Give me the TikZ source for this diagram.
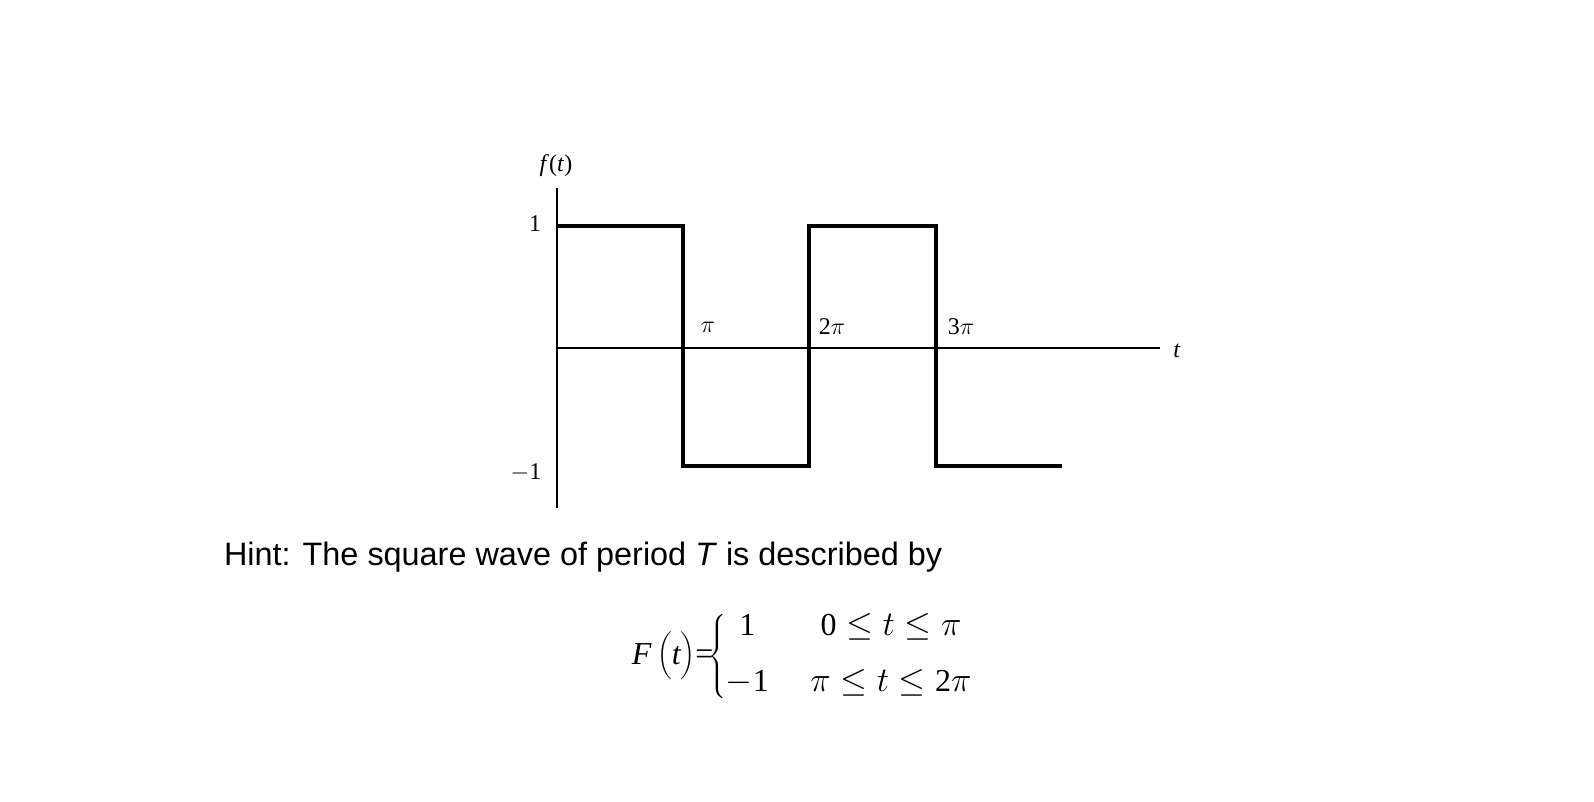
\documentclass[tikz,border=0pt]{standalone}
\usepackage{fontspec}
\setmainfont{Liberation Serif}
\newfontfamily\hintfont{Liberation Sans}
\begin{document}
\begin{tikzpicture}[x=0.5pt,y=-0.5pt,
  axis/.style={line width=0.6pt},
  wave/.style={line width=1.6pt},
  lbl/.style={font=\fontsize{12}{13}\selectfont},
  mathlbl/.style={font=\fontsize{16}{18}\selectfont}]
\coordinate (ytop) at (557,188);
\coordinate (ybot) at (557,508);
\coordinate (xl) at (557,348);
\coordinate (xr) at (1160,348);
\draw[axis] (ytop) -- (ybot);
\draw[axis] (xl) -- (xr);
\draw[wave] (557,226) -- (683,226) -- (683,466) -- (809,466) -- (809,226) -- (936,226) -- (936,466) -- (1062,466);
\node[lbl] (ft) at (556,166) {\textit{f}(\textit{t})};
\node[lbl] (t) at (1177,351) {\textit{t}};
\node[lbl] (one) at (535,224) {1};
\node[lbl] (mone) at (526,473) {$-$1};
\node[lbl] (pi) at (708,327) {$\pi$};
\node[lbl] (tpi) at (832,327) {2$\pi$};
\node[lbl] (thpi) at (961,327) {3$\pi$};
\node[anchor=west,font=\hintfont\fontsize{16.2}{19}\selectfont] (hint) at (217,557) {Hint: The square wave of period \textit{T} is described by};
\node[mathlbl] (F) at (803,656) {\textit{F}\,$\Bigg(\textit{t}\Bigg)$=\!$\left\{\begin{array}{@{}c@{\quad\;}c@{}}\mbox{1} & \mbox{0}\leq t\leq \pi\\[10pt] -\mbox{1} & \pi\leq t\leq \mbox{2}\pi\end{array}\right.$};
\pgfresetboundingbox
\useasboundingbox (0,0) rectangle (1594,802);
\end{tikzpicture}
\end{document}
